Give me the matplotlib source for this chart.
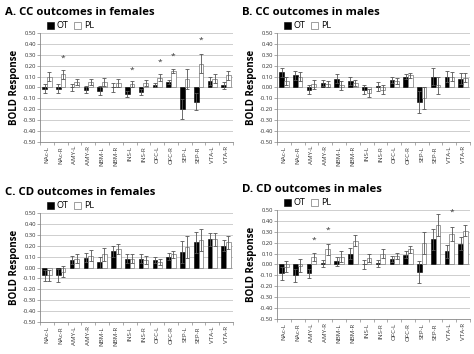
import matplotlib
matplotlib.use("Agg")
import matplotlib.pyplot as plt
import numpy as np

plt.rcParams['font.family'] = ['Open Sans', 'DejaVu Sans']

regions = ["NAc-L", "NAc-R", "AMY-L", "AMY-R", "NBM-L", "NBM-R", "INS-L",
           "INS-R", "OFC-L", "OFC-R", "SEP-L", "SEP-R", "VTA-L", "VTA-R"]
yticks = [0.5, 0.4, 0.3, 0.2, 0.1, 0.0, -0.1, -0.2, -0.3, -0.4, -0.5]

# A. CC outcomes in females
a_ot = [-0.01, -0.01, 0.00, -0.02, -0.03, 0.00, -0.06, -0.04, 0.02, 0.05, -0.20, -0.13, 0.06, 0.02]
a_ot_err = [0.04, 0.04, 0.03, 0.03, 0.04, 0.04, 0.03, 0.03, 0.02, 0.02, 0.09, 0.08, 0.04, 0.03]
a_pl = [0.10, 0.12, 0.05, 0.05, 0.05, 0.04, 0.03, 0.04, 0.09, 0.15, 0.08, 0.22, 0.08, 0.11]
a_pl_err = [0.04, 0.04, 0.03, 0.03, 0.04, 0.04, 0.03, 0.03, 0.03, 0.02, 0.09, 0.09, 0.04, 0.04]
a_stars = {1: 0.27, 6: 0.16, 8: 0.23, 9: 0.29, 11: 0.43}

# B. CC outcomes in males
b_ot = [0.14, 0.11, -0.02, 0.04, 0.08, 0.06, -0.02, 0.01, 0.07, 0.10, -0.13, 0.10, 0.10, 0.08]
b_ot_err = [0.04, 0.04, 0.04, 0.03, 0.04, 0.04, 0.04, 0.04, 0.03, 0.02, 0.10, 0.08, 0.05, 0.05]
b_pl = [0.06, 0.10, 0.03, 0.03, 0.02, 0.04, -0.05, -0.02, 0.06, 0.11, -0.10, 0.02, 0.10, 0.09]
b_pl_err = [0.04, 0.04, 0.04, 0.03, 0.04, 0.03, 0.04, 0.04, 0.03, 0.02, 0.10, 0.08, 0.04, 0.04]
b_stars = {}

# C. CD outcomes in females
c_ot = [-0.07, -0.07, 0.07, 0.09, 0.05, 0.15, 0.08, 0.08, 0.07, 0.10, 0.14, 0.23, 0.26, 0.20]
c_ot_err = [0.05, 0.06, 0.04, 0.04, 0.05, 0.05, 0.04, 0.04, 0.03, 0.03, 0.10, 0.10, 0.06, 0.05]
c_pl = [-0.07, -0.04, 0.08, 0.11, 0.12, 0.17, 0.08, 0.07, 0.05, 0.12, 0.19, 0.25, 0.26, 0.23]
c_pl_err = [0.05, 0.05, 0.04, 0.05, 0.06, 0.05, 0.04, 0.04, 0.03, 0.03, 0.10, 0.10, 0.06, 0.06]
c_stars = {}

# D. CD outcomes in males
d_ot = [-0.08, -0.10, -0.08, 0.01, 0.03, 0.10, 0.00, 0.01, 0.05, 0.09, -0.07, 0.23, 0.12, 0.19]
d_ot_err = [0.06, 0.06, 0.04, 0.03, 0.04, 0.05, 0.04, 0.03, 0.03, 0.03, 0.10, 0.10, 0.06, 0.06]
d_pl = [-0.02, -0.01, 0.07, 0.14, 0.07, 0.22, 0.06, 0.10, 0.08, 0.14, 0.20, 0.36, 0.28, 0.31]
d_pl_err = [0.05, 0.06, 0.04, 0.05, 0.05, 0.05, 0.04, 0.04, 0.03, 0.03, 0.10, 0.10, 0.06, 0.05]
d_stars = {2: 0.22, 3: 0.31, 12: 0.48}

panels = [
    ("A. CC outcomes in females", a_ot, a_ot_err, a_pl, a_pl_err, a_stars, [0.0844, 0.599, 0.4072, 0.3078]),
    ("B. CC outcomes in males", b_ot, b_ot_err, b_pl, b_pl_err, b_stars, [0.5844, 0.599, 0.4072, 0.3078]),
    ("C. CD outcomes in females", c_ot, c_ot_err, c_pl, c_pl_err, c_stars, [0.0844, 0.0904, 0.4072, 0.3079]),
    ("D. CD outcomes in males", d_ot, d_ot_err, d_pl, d_pl_err, d_stars, [0.5844, 0.0989, 0.4072, 0.3079]),
]

fig = plt.figure(figsize=(4.74, 3.54), dpi=100)
x = np.arange(len(regions))
w = 0.34

for title, ot, ot_err, pl, pl_err, stars, rect in panels:
    ax = fig.add_axes(rect)
    ax.bar(x - w / 2, ot, w, color='black', edgecolor='black', linewidth=0.4,
           yerr=ot_err, error_kw=dict(ecolor='#555555', elinewidth=0.6, capsize=1.2, capthick=0.6),
           label='OT', zorder=3)
    ax.bar(x + w / 2, pl, w, color='white', edgecolor='#777777', linewidth=0.5,
           yerr=pl_err, error_kw=dict(ecolor='#555555', elinewidth=0.6, capsize=1.2, capthick=0.6),
           label='PL', zorder=3)
    for i, ys in stars.items():
        ax.text(x[i] + w / 2, ys, '*', ha='center', va='center', fontsize=6, color='#333333')
    ax.set_xlim(-0.5, len(regions) - 0.5)
    ax.set_ylim(-0.5, 0.5)
    ax.set_yticks(yticks)
    ax.set_yticklabels(['%.2f' % v for v in yticks], fontsize=4.2, color='#333333')
    ax.set_xticks(x)
    ax.set_xticklabels(regions, rotation=90, fontsize=4.5, color='#333333')
    ax.set_xticks(np.arange(-0.5, len(regions), 1.0), minor=True)
    ax.tick_params(axis='x', which='major', length=0, pad=3)
    ax.tick_params(axis='x', which='minor', length=2, width=0.5, color='#888888')
    ax.tick_params(axis='y', length=2, width=0.5, color='#888888', pad=1)
    ax.grid(axis='y', color='#bbbbbb', linewidth=0.5, zorder=0)
    ax.set_axisbelow(True)
    for s in ['top', 'right']:
        ax.spines[s].set_visible(False)
    for s in ['left', 'bottom']:
        ax.spines[s].set_color('#888888')
        ax.spines[s].set_linewidth(0.6)
    ax.set_ylabel('BOLD Response', fontsize=7, fontweight='bold', labelpad=2)
    ax.text(-0.18, 1.19, title, transform=ax.transAxes, fontsize=8.2,
            fontweight='bold', ha='left', va='center')
    ax.legend(loc='lower left', bbox_to_anchor=(0.02, 1.0), ncol=2, frameon=False,
              fontsize=6.5, handlelength=0.8, handleheight=0.8, handletextpad=0.3,
              columnspacing=0.6, borderpad=0.1, borderaxespad=0.2)

fig.savefig('out.png', dpi=100)
